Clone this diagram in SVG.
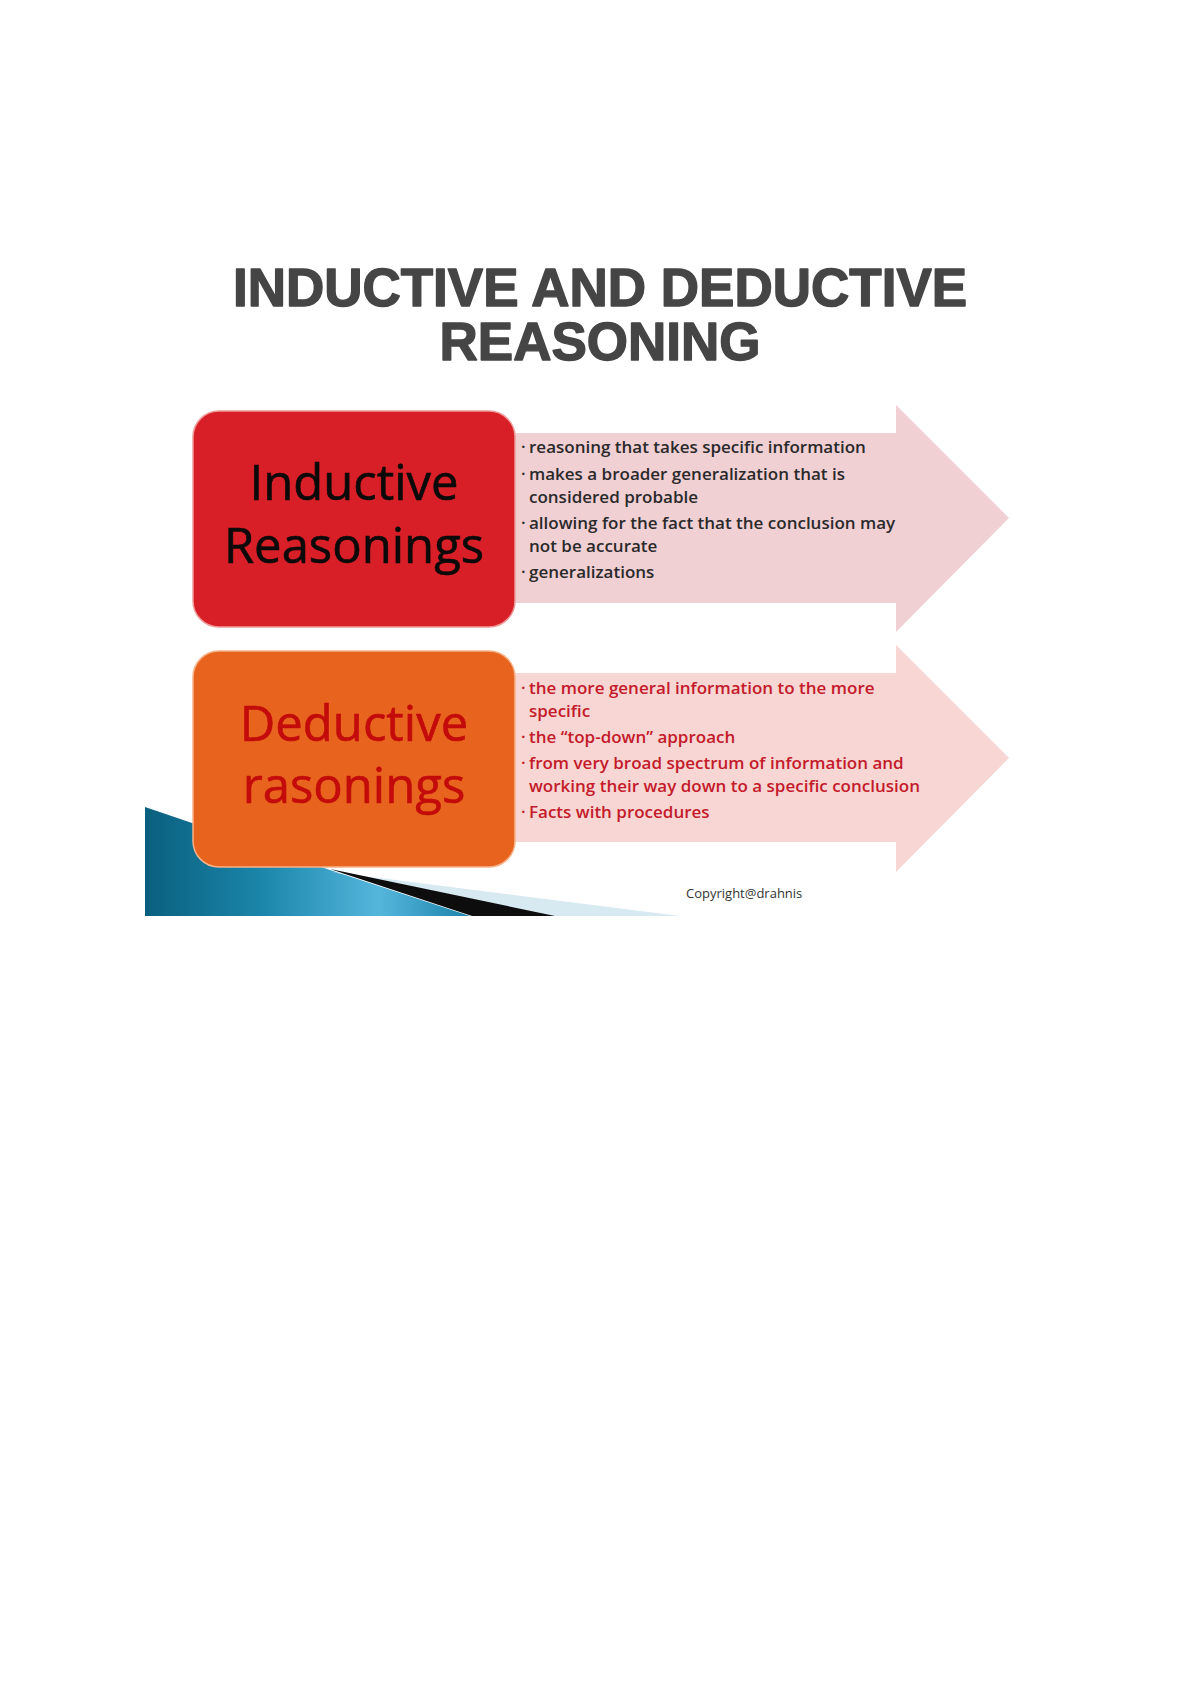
<svg xmlns="http://www.w3.org/2000/svg" width="1200" height="1696" viewBox="0 0 1200 1696">
<defs>
<linearGradient id="blueGrad" x1="145" y1="0" x2="480" y2="0" gradientUnits="userSpaceOnUse">
<stop offset="0" stop-color="#0a5f7e"/>
<stop offset="0.35" stop-color="#1b86aa"/>
<stop offset="0.7" stop-color="#55b6dc"/>
<stop offset="1" stop-color="#167ea4"/>
</linearGradient>
<filter id="soft" x="-5%" y="-20%" width="110%" height="140%">
<feGaussianBlur stdDeviation="0.6"/>
</filter>
<style>
.title{font-family:"Liberation Sans",Arial,sans-serif;font-weight:bold;font-size:53px;fill:#454545;stroke:#454545;stroke-width:1.4px;stroke-linejoin:round;text-anchor:middle}
.head{font-family:"Open Sans","Noto Sans",sans-serif;font-size:49px;stroke-width:0.6px;text-anchor:middle}
.bul{font-family:"Open Sans","Noto Sans",sans-serif;font-weight:600;font-size:17px}
.b1{fill:#2a2a2a}
.b2{fill:#c41a2a}
.arrow1{fill:#f1d0d4}
.arrow2{fill:#f7d6d4}
.copy{font-family:"Open Sans","Noto Sans",sans-serif;font-size:13px;fill:#333}
</style>
</defs>
<rect width="1200" height="1696" fill="#ffffff"/>

<g id="title" filter="url(#soft)">
<text class="title" x="600" y="306">INDUCTIVE AND DEDUCTIVE</text>
<text class="title" x="600" y="360">REASONING</text>
</g>

<g id="decoration">
<polygon points="145,807 330,870 470,916 145,916" fill="url(#blueGrad)"/>
<polygon points="332,872 680,916 552,916" fill="#d7e9f1"/>
<polygon points="330,869 555,916 472,916" fill="#0d0d0d"/>
</g>

<g id="connectors">
<polygon id="arrow-inductive" class="arrow1" points="500,433 896,433 896,405 1009,518 896,632 896,603 500,603"/>
<polygon id="arrow-deductive" class="arrow2" points="500,673 896,673 896,645 1009,758 896,872 896,842 500,842"/>
</g>

<g id="node-inductive">
<rect x="193" y="411" width="322" height="216" rx="26" ry="26" fill="#d81f27" stroke="#ee9a9a" stroke-width="1.5"/>
<text class="head" x="354" y="500" fill="#0a0a0a" stroke="#0a0a0a">Inductive</text>
<text class="head" x="354" y="563" fill="#0a0a0a" stroke="#0a0a0a">Reasonings</text>
</g>

<g id="node-deductive">
<rect x="193" y="651" width="322" height="216" rx="26" ry="26" fill="#e8641e" stroke="#f6b38a" stroke-width="1.5"/>
<text class="head" x="354" y="741" fill="#c30b0b" stroke="#c30b0b">Deductive</text>
<text class="head" x="354" y="803" fill="#c30b0b" stroke="#c30b0b">rasonings</text>
</g>

<g id="text-inductive" class="bul b1">
<text x="521" y="453">·</text><text x="529" y="453">reasoning that takes specific information</text>
<text x="521" y="480">·</text><text x="529" y="480">makes a broader generalization that is</text>
<text x="529" y="503">considered probable</text>
<text x="521" y="529">·</text><text x="529" y="529">allowing for the fact that the conclusion may</text>
<text x="529" y="552">not be accurate</text>
<text x="521" y="578">·</text><text x="529" y="578">generalizations</text>
</g>

<g id="text-deductive" class="bul b2">
<text x="521" y="694">·</text><text x="529" y="694">the more general information to the more</text>
<text x="529" y="717">specific</text>
<text x="521" y="743">·</text><text x="529" y="743">the “top-down” approach</text>
<text x="521" y="769">·</text><text x="529" y="769">from very broad spectrum of information and</text>
<text x="529" y="792">working their way down to a specific conclusion</text>
<text x="521" y="818">·</text><text x="529" y="818">Facts with procedures</text>
</g>

<text class="copy" x="686" y="898">Copyright@drahnis</text>
</svg>
